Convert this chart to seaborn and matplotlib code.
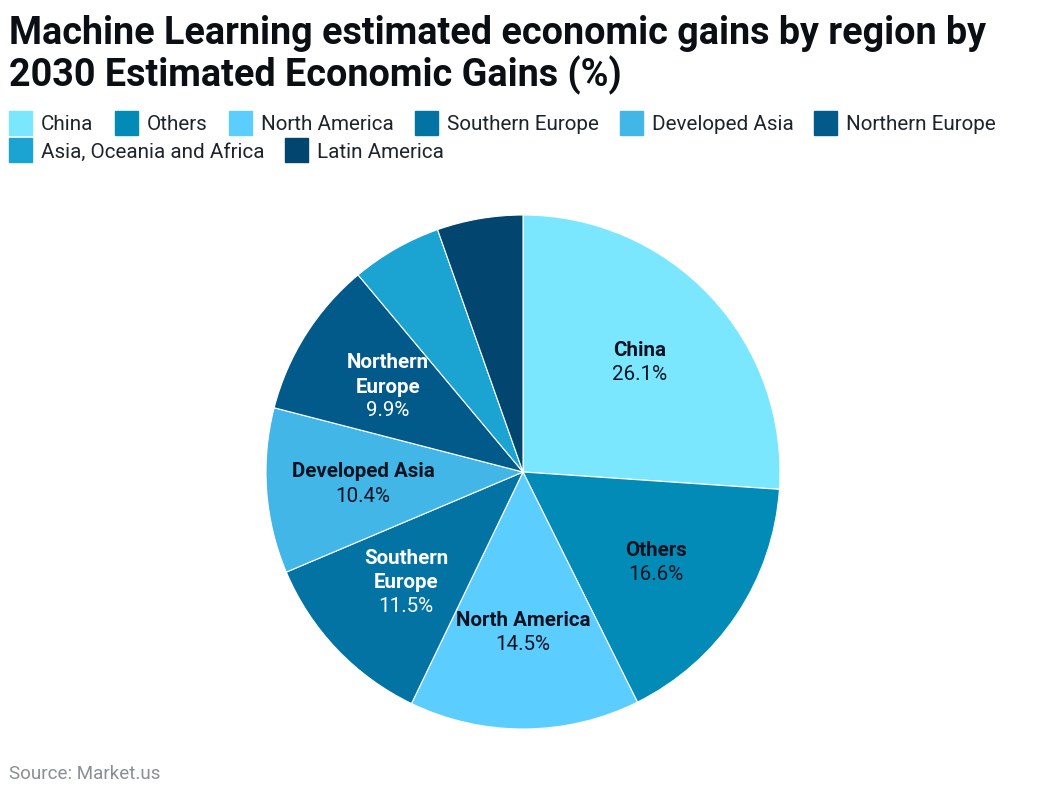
import matplotlib
matplotlib.use('Agg')
import matplotlib.pyplot as plt
from matplotlib.patches import Rectangle
import seaborn as sns

regions = ['China', 'Others', 'North America', 'Southern Europe', 'Developed Asia',
           'Northern Europe', 'Asia, Oceania and Africa', 'Latin America']
gains = [26.1, 16.6, 14.5, 11.5, 10.4, 9.9, 5.7, 5.4]
colors = ['#7ae7ff', '#038bb8', '#5ccdff', '#0273a3', '#42b6e6', '#025a8a', '#1ba3d1', '#02466f']
# label text per slice, the two small slices have none
label_lines = [['China'], ['Others'], ['North America'], ['Southern', 'Europe'], ['Developed Asia'],
               ['Northern', 'Europe'], [], []]
label_colors = ['#0b1220', '#0b1220', '#0b1220', 'white', '#0b1220', 'white', 'white', 'white']
# label block centres in pixels
label_x = [640, 656, 523, 406, 363, 388, 0, 0]
label_y = [363, 562, 633, 583, 484, 387, 0, 0]

W, H = 1046, 794
CX, CY, R = 523, 472, 257

sns.set_theme(style='white')
plt.rcParams['font.family'] = ['Roboto', 'DejaVu Sans']

fig = plt.figure(figsize=(W / 100, H / 100), dpi=100, facecolor='white')
ax = fig.add_axes([(CX - R) / W, 1 - (CY + R) / H, 2 * R / W, 2 * R / H])

palette = sns.color_palette(colors)
wedges, _ = ax.pie(gains, colors=palette, startangle=90, counterclock=False, radius=1,
                   wedgeprops={'edgecolor': 'white', 'linewidth': 0.8})
ax.set_xlim(-1, 1)
ax.set_ylim(-1, 1)

for value, lines, col, lx, ly in zip(gains, label_lines, label_colors, label_x, label_y):
    if not lines:
        continue
    top = ly - 24 * len(lines) / 2
    for i, line in enumerate(lines):
        fig.text(lx / W, 1 - (top + i * 24) / H, line, ha='center', va='center', fontsize=14.8,
                 fontweight='bold', color=col)
    fig.text(lx / W, 1 - (top + len(lines) * 24) / H, f'{value}%', ha='center', va='center',
             fontsize=14.8, color=col)

fig.text(9 / W, 1 - 33 / H, 'Machine Learning estimated economic gains by region by',
         fontsize=27.15, fontweight='bold', color='#0b0f14', va='center')
fig.text(9 / W, 1 - 75 / H, '2030 Estimated Economic Gains (%)',
         fontsize=27.15, fontweight='bold', color='#0b0f14', va='center')

# legend drawn by hand to keep the two rows where they are
legend_x = [9, 115, 229, 415, 620, 814, 9, 285]
legend_y = [123, 123, 123, 123, 123, 123, 150, 150]
for name, col, lx, ly in zip(regions, colors, legend_x, legend_y):
    fig.add_artist(Rectangle((lx / W, 1 - (ly + 12) / H), 23 / W, 24 / H, color=col,
                             transform=fig.transFigure))
    fig.text((lx + 32) / W, 1 - (ly + 2) / H, name, fontsize=14.9, color='#1e242b', va='center')

fig.text(9 / W, 1 - 774 / H, 'Source: Market.us', fontsize=13.5, color='#8a8f94', va='center')

fig.savefig('out.png', dpi=100)
